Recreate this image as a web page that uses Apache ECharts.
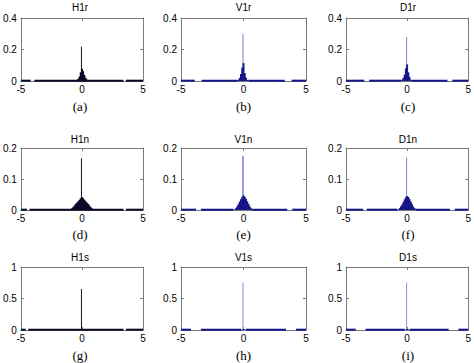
<!DOCTYPE html>
<html><head><meta charset="utf-8">
<script src="https://cdn.jsdelivr.net/npm/echarts@6/dist/echarts.min.js"></script>
<style>html,body{margin:0;padding:0;background:#fff}#c{width:474px;height:363px}</style>
</head><body><div id="c"></div>
<script>
// ---------- data ----------
const panelTitles = ['H1r','V1r','D1r','H1n','V1n','D1n','H1s','V1s','D1s'];
const captions = ['(a)','(b)','(c)','(d)','(e)','(f)','(g)','(h)','(i)'];
const xTickMin = -5, xTickMax = 5, xTickStep = 5;
const rowYMax = [0.4, 0.2, 1];
const rowYStep = [0.2, 0.1, 0.5];
const binCenters = [-1.0,-0.9,-0.8,-0.7,-0.6,-0.5,-0.4,-0.3,-0.2,-0.1,0.0,0.1,0.2,0.3,0.4,0.5,0.6,0.7,0.8,0.9,1.0];
const moundH1r = [0,0,0,0,0,0.003,0.007,0.014,0.028,0.055,0.078,0.062,0.038,0.02,0.009,0.004,0,0,0,0,0];
const moundV1r = [0,0,0,0,0,0.003,0.008,0.02,0.045,0.085,0.113,0.05,0.02,0.007,0.002,0,0,0,0,0,0];
const moundD1r = [0,0,0,0,0,0.003,0.008,0.02,0.04,0.08,0.105,0.055,0.025,0.008,0.003,0,0,0,0,0,0];
const moundH1n = [0,0.002,0.006,0.01,0.015,0.02,0.024,0.028,0.033,0.038,0.042,0.038,0.033,0.028,0.024,0.02,0.015,0.01,0.006,0.002,0];
const moundV1n = [0,0,0,0.002,0.006,0.012,0.019,0.027,0.035,0.042,0.047,0.043,0.036,0.028,0.02,0.012,0.006,0.002,0,0,0];
const moundD1n = [0,0,0,0.002,0.006,0.012,0.018,0.026,0.034,0.041,0.045,0.042,0.035,0.027,0.019,0.011,0.006,0.002,0,0,0];
const moundH1s = [0,0,0,0,0,0,0,0,0,0.004,0.008,0.004,0,0,0,0,0,0,0,0,0];
const moundV1s = [0,0,0,0,0,0,0,0,0,0.008,0.016,0.008,0,0,0,0,0,0,0,0,0];
const moundD1s = [0,0,0,0,0,0,0,0,0,0.008,0.016,0.008,0,0,0,0,0,0,0,0,0];
const spikeX = 0;
const spikeHeights = [0.218, 0.30, 0.28, 0.167, 0.175, 0.17, 0.65, 0.75, 0.75];
// near-zero tails: ranges where the histogram has tiny nonzero counts
const tailH1r = [[-5,-4.2],[-3.9,3.4],[3.6,5]];
const tailV1r = [[-5,-3.9],[-3.35,-0.5],[0.4,3.3],[3.85,5]];
const tailD1r = [[-5,-3.5],[-3.1,-0.5],[0.4,3.3],[3.7,5]];
const tailH1n = [[-5,-4.5],[-4.3,3.4],[3.6,5]];
const tailV1n = [[-5,-3.8],[-3.4,-0.8],[0.7,3.5],[3.9,5]];
const tailD1n = [[-5,-3.6],[-3.3,-0.8],[0.7,3.5],[3.9,5]];
const tailH1s = [[-5,-4.6],[-4.4,3.4],[3.6,5]];
const tailV1s = [[-5,-4.2],[-3.4,-0.2],[0.2,3.4],[4.2,5]];
const tailD1s = [[-5,-4.2],[-3.4,-0.2],[0.2,3.4],[4.2,5]];
const tailLevel = [0.002, 0.001, 0.005];

const mounds = [moundH1r,moundV1r,moundD1r,moundH1n,moundV1n,moundD1n,moundH1s,moundV1s,moundD1s];
const tails = [tailH1r,tailV1r,tailD1r,tailH1n,tailV1n,tailD1n,tailH1s,tailV1s,tailD1s];

// ---------- layout / style ----------
const colLeft = [17, 181, 346];
const colWidth = [126, 125, 124];
const rowTop = [18, 148, 267];
const rowHeight = [63, 62, 63];
const titleTop = [2, 134, 252];
const captionTop = [100, 228, 349];
const moundColor = ['#0a0a26','#16168a','#16168a'];
const spikeColor = ['#151520','#7d7de6','#8585e8','#151520','#4040c0','#8585e8','#151520','#8c8cea','#8c8cea'];
const boxColor = '#7a7a7a';
const sans = 'Liberation Sans';

const grid = [], xAxis = [], yAxis = [], series = [], title = [];
for (let i = 0; i < 9; i++) {
  const r = Math.floor(i / 3), c = i % 3;
  grid.push({left: colLeft[c], top: rowTop[r], width: colWidth[c], height: rowHeight[r], containLabel: false});
  const cx = colLeft[c] + colWidth[c] / 2;
  title.push({text: panelTitles[i], left: cx, top: titleTop[r], padding: 0, textAlign: 'center', textVerticalAlign: 'top',
    textStyle: {fontFamily: sans, fontSize: 10, fontWeight: 'normal', color: '#000'}});
  title.push({text: captions[i], left: cx, top: captionTop[r], padding: 0, textAlign: 'center', textVerticalAlign: 'top',
    textStyle: {fontFamily: 'Liberation Serif', fontSize: 13, fontWeight: 'normal', color: '#000'}});
}
for (let i = 0; i < 9; i++) {
  const r = Math.floor(i / 3);
  xAxis.push({gridIndex: i, type: 'value', position: 'bottom', min: xTickMin, max: xTickMax, interval: xTickStep,
    splitLine: {show: false}, axisLine: {show: true, onZero: false, lineStyle: {color: boxColor, width: 1}},
    axisTick: {show: true, inside: true, length: 3, lineStyle: {color: boxColor}},
    axisLabel: {show: true, margin: 3, fontFamily: sans, fontSize: 10, color: '#000'}});
  yAxis.push({gridIndex: i, type: 'value', position: 'left', min: 0, max: rowYMax[r], interval: rowYStep[r],
    splitLine: {show: false}, axisLine: {show: true, onZero: false, lineStyle: {color: boxColor, width: 1}},
    axisTick: {show: true, inside: true, length: 3, lineStyle: {color: boxColor}},
    axisLabel: {show: true, margin: 4, fontFamily: sans, fontSize: 10, color: '#000'}});
}
for (let i = 0; i < 9; i++) {
  const r = Math.floor(i / 3);
  xAxis.push({gridIndex: i, type: 'value', position: 'top', min: xTickMin, max: xTickMax, interval: xTickStep,
    splitLine: {show: false}, axisLine: {show: true, onZero: false, lineStyle: {color: boxColor, width: 1}},
    axisTick: {show: true, inside: true, length: 3, lineStyle: {color: boxColor}}, axisLabel: {show: false}});
  yAxis.push({gridIndex: i, type: 'value', position: 'right', min: 0, max: rowYMax[r], interval: rowYStep[r],
    splitLine: {show: false}, axisLine: {show: true, onZero: false, lineStyle: {color: boxColor, width: 1}},
    axisTick: {show: true, inside: true, length: 3, lineStyle: {color: boxColor}}, axisLabel: {show: false}});
}
for (let i = 0; i < 9; i++) {
  const r = Math.floor(i / 3), c = i % 3;
  tails[i].forEach(function (seg) {
    series.push({type: 'line', xAxisIndex: i, yAxisIndex: i, silent: true, showSymbol: false, symbol: 'none', animation: false,
      data: [[seg[0], tailLevel[r]], [seg[1], tailLevel[r]]],
      lineStyle: {color: moundColor[c], width: 2}, z: 3});
  });
  series.push({type: 'bar', xAxisIndex: i, yAxisIndex: i, silent: true, animation: false, barWidth: 1, barGap: '-100%',
    data: [[spikeX, spikeHeights[i]]], itemStyle: {color: spikeColor[i]}, z: 2});
  series.push({type: 'bar', xAxisIndex: i, yAxisIndex: i, silent: true, animation: false, barWidth: 2, barGap: '-100%',
    data: binCenters.map(function (x, k) { return [x, mounds[i][k]]; }), itemStyle: {color: moundColor[c]}, z: 2});
}
const chart = echarts.init(document.getElementById('c'), null, {renderer: 'svg'});
chart.setOption({animation: false, backgroundColor: '#fff', title: title, grid: grid, xAxis: xAxis, yAxis: yAxis, series: series});
</script></body></html>
